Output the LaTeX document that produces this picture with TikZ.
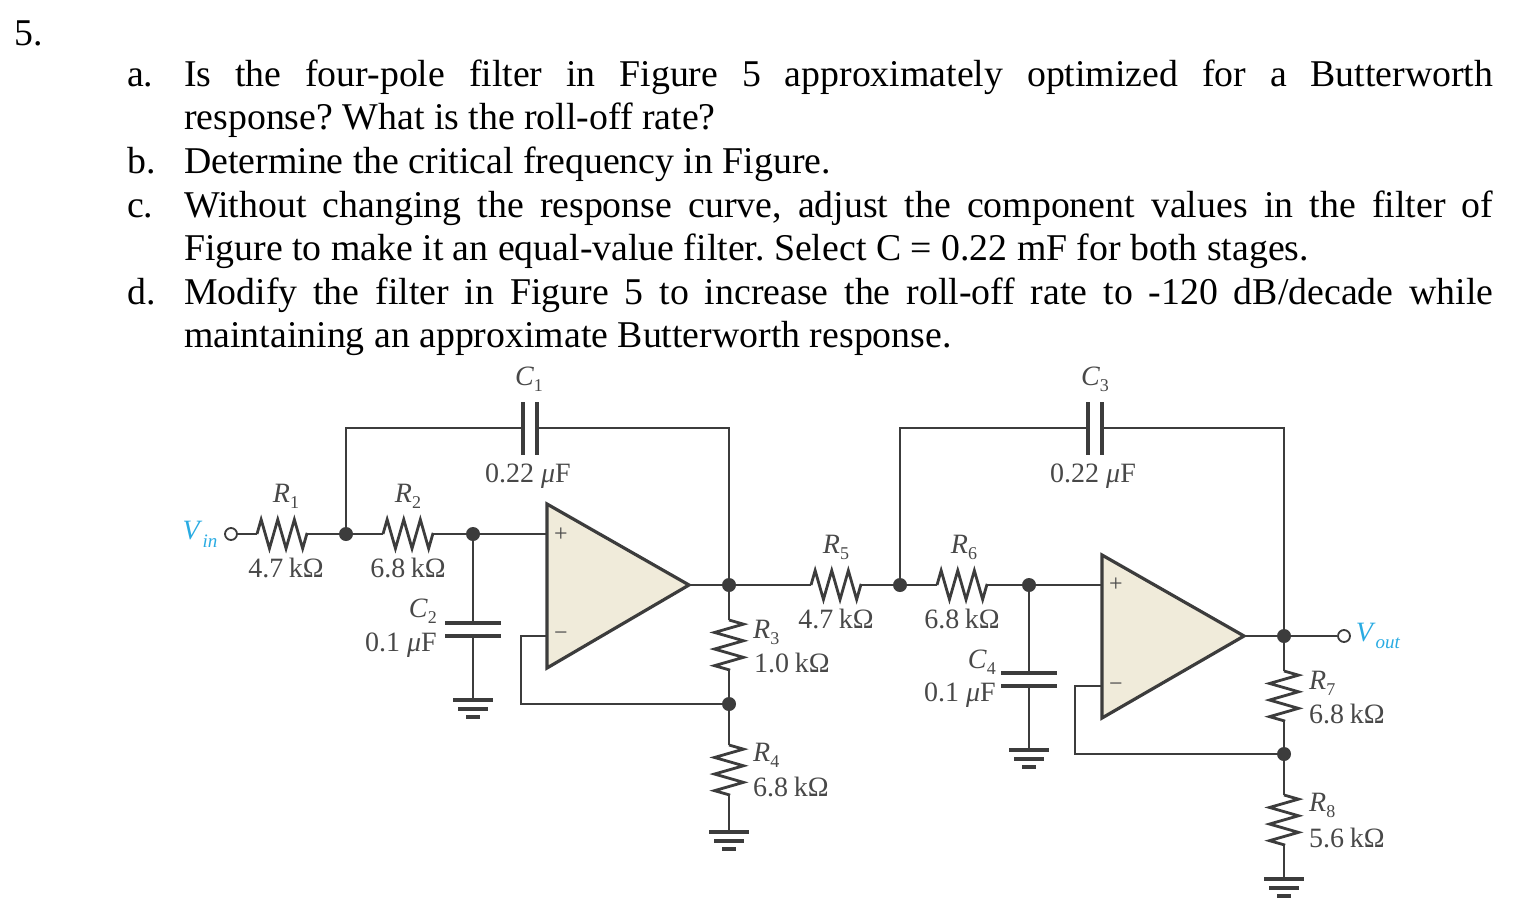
\documentclass[tikz,border=0pt]{standalone}
\usepackage{fontspec}
\setmainfont{Liberation Serif}
\usetikzlibrary{decorations.pathmorphing}
\definecolor{wirecol}{HTML}{3C3C3C}
\definecolor{labelcol}{HTML}{484848}
\definecolor{ampfill}{HTML}{F0EBDA}
\definecolor{vcol}{HTML}{29ABE2}
\newcommand{\sublab}[2]{\textit{#1}\raisebox{-0.22em}{\fontsize{18}{18}\selectfont #2}}
\newcommand{\vlab}[2]{\textit{#1}\raisebox{-0.28em}{\fontsize{19}{19}\selectfont\textit{#2}}}
\newcommand{\mufarad}{\textit{μ}F}
\newcommand{\kohm}{\hspace{0.2em}kΩ}
\newcommand{\qtext}[1]{\parbox[t]{1309pt}{\frenchspacing #1}}
\tikzset{%
  % Specifications for style of nodes:
         para/.style = {anchor=base west, inner sep=0pt,
                        font=\fontsize{37.8}{43.7}\selectfont},
        value/.style = {inner sep=0pt, text=labelcol, font=\fontsize{28}{30}\selectfont},
         sign/.style = {inner sep=0pt, text=labelcol, font=\fontsize{24}{24}\selectfont},
        vname/.style = {inner sep=0pt, text=vcol, font=\fontsize{28}{30}\selectfont},
          dot/.style = {circle, fill=wirecol, inner sep=0pt, minimum size=14pt},
         port/.style = {circle, draw=wirecol, fill=white, line width=1.8pt,
                        inner sep=0pt, minimum size=12pt},
  % Specifications for style of lines:
         wire/.style = {draw=wirecol, line width=1.9pt},
          res/.style = {draw=wirecol, line width=2.8pt, line join=miter,
                        decorate, decoration={zigzag, segment length=16.6pt, amplitude=14.5pt}},
        plate/.style = {draw=wirecol, line width=3.4pt},
          amp/.style = {draw=wirecol, fill=ampfill, line width=3.2pt, line join=miter},
}
\newcommand{\gndsym}[1]{%
  \draw[plate] (#1) ++(-20,0) -- ++(40,0);
  \draw[plate] (#1) ++(-15,9) -- ++(30,0);
  \draw[plate] (#1) ++(-7,17) -- ++(14,0);
}
\begin{document}
\begin{tikzpicture}[x=1pt,y=-1pt]
  \useasboundingbox (0,0) rectangle (1537,905);
  % Question text
  \node[para] (num) at (14,45) {5.};
  \node[para] (qa) at (127,86) {a.};
  \node[para] (qb) at (127,173) {b.};
  \node[para] (qc) at (127,217) {c.};
  \node[para] (qd) at (127,304) {d.};
  \node[para] (ta) at (184,86) {\qtext{Is the four-pole filter in Figure 5 approximately optimized for a Butterworth\linebreak response? What is the roll-off rate?}};
  \node[para] (tb) at (184,173) {\qtext{Determine the critical frequency in Figure.}};
  \node[para] (tc) at (184,217) {\qtext{Without changing the response curve, adjust the component values in the filter of\linebreak Figure to make it an equal-value filter. Select C = 0.22 mF for both stages.}};
  \node[para] (td) at (184,304) {\qtext{Modify the filter in Figure 5 to increase the roll-off rate to -120 dB/decade while\linebreak maintaining an approximate Butterworth response.}};

  % First stage: junctions and terminals
  \node[port] (vin) at (231,534) {};
  \node[dot] (j1) at (346,534) {};
  \node[dot] (j2) at (473,534) {};
  \node[dot] (j3) at (729,585) {};
  \node[dot] (j4) at (729,704) {};
  \coordinate (r1a) at (257,534);
  \coordinate (r1b) at (307,534);
  \coordinate (r2a) at (383,534);
  \coordinate (r2b) at (433,534);
  \coordinate (r3a) at (729,620);
  \coordinate (r3b) at (729,670);
  \coordinate (r4a) at (729,745);
  \coordinate (r4b) at (729,795);
  \coordinate (c1a) at (523,428);
  \coordinate (c1b) at (537,428);
  \coordinate (c2a) at (473,623);
  \coordinate (c2b) at (473,636);
  \coordinate (c1l) at (346,428);
  \coordinate (c1r) at (729,428);
  \coordinate (a1top) at (547,504);
  \coordinate (a1bot) at (547,668);
  \coordinate (a1out) at (689,585);
  \coordinate (a1p) at (547,534);
  \coordinate (a1m) at (547,636);
  \coordinate (fb1a) at (521,636);
  \coordinate (fb1b) at (521,704);
  \coordinate (g1) at (473,700);
  \coordinate (g2) at (729,832);

  % Second stage: junctions and terminals
  \node[dot] (j5) at (900,585) {};
  \node[dot] (j6) at (1029,585) {};
  \node[dot] (j7) at (1284,636) {};
  \node[dot] (j8) at (1284,754) {};
  \node[port] (vout) at (1344,636) {};
  \coordinate (r5a) at (811,585);
  \coordinate (r5b) at (861,585);
  \coordinate (r6a) at (937,585);
  \coordinate (r6b) at (987,585);
  \coordinate (r7a) at (1284,671);
  \coordinate (r7b) at (1284,721);
  \coordinate (r8a) at (1284,795);
  \coordinate (r8b) at (1284,845);
  \coordinate (c3a) at (1088,428);
  \coordinate (c3b) at (1102,428);
  \coordinate (c4a) at (1029,673);
  \coordinate (c4b) at (1029,686);
  \coordinate (c3l) at (900,428);
  \coordinate (c3r) at (1284,428);
  \coordinate (a2top) at (1102,555);
  \coordinate (a2bot) at (1102,718);
  \coordinate (a2out) at (1244,636);
  \coordinate (a2p) at (1102,585);
  \coordinate (a2m) at (1102,686);
  \coordinate (fb2a) at (1075,686);
  \coordinate (fb2b) at (1075,754);
  \coordinate (g3) at (1029,750);
  \coordinate (g4) at (1284,879);

  % Wires between the parts
  \draw[wire] (vin) -- (r1a);
  \draw[wire] (r1b) -- (j1);
  \draw[wire] (j1) -- (r2a);
  \draw[wire] (r2b) -- (j2);
  \draw[wire] (j2) -- (a1p);
  \draw[wire] (j1) -- (c1l) -- (c1a);
  \draw[wire] (c1b) -- (c1r) -- (j3);
  \draw[wire] (j2) -- (c2a);
  \draw[wire] (c2b) -- (g1);
  \draw[wire] (a1m) -- (fb1a) -- (fb1b) -- (j4);
  \draw[wire] (a1out) -- (j3);
  \draw[wire] (j3) -- (r3a);
  \draw[wire] (r3b) -- (j4);
  \draw[wire] (j4) -- (r4a);
  \draw[wire] (r4b) -- (g2);
  \draw[wire] (j3) -- (r5a);
  \draw[wire] (r5b) -- (j5);
  \draw[wire] (j5) -- (r6a);
  \draw[wire] (r6b) -- (j6);
  \draw[wire] (j6) -- (a2p);
  \draw[wire] (j5) -- (c3l) -- (c3a);
  \draw[wire] (c3b) -- (c3r) -- (j7);
  \draw[wire] (j6) -- (c4a);
  \draw[wire] (c4b) -- (g3);
  \draw[wire] (a2m) -- (fb2a) -- (fb2b) -- (j8);
  \draw[wire] (a2out) -- (j7);
  \draw[wire] (j7) -- (vout);
  \draw[wire] (j7) -- (r7a);
  \draw[wire] (r7b) -- (j8);
  \draw[wire] (j8) -- (r8a);
  \draw[wire] (r8b) -- (g4);

  % Resistors
  \draw[res] (r1a) -- (r1b);
  \draw[res] (r2a) -- (r2b);
  \draw[res] (r3a) -- (r3b);
  \draw[res] (r4a) -- (r4b);
  \draw[res] (r5a) -- (r5b);
  \draw[res] (r6a) -- (r6b);
  \draw[res] (r7a) -- (r7b);
  \draw[res] (r8a) -- (r8b);

  % Capacitors
  \draw[plate] (c1a) ++(0,-26) -- ++(0,53);
  \draw[plate] (c1b) ++(0,-26) -- ++(0,53);
  \draw[plate] (c2a) ++(-28,0) -- ++(56,0);
  \draw[plate] (c2b) ++(-28,0) -- ++(56,0);
  \draw[plate] (c3a) ++(0,-26) -- ++(0,53);
  \draw[plate] (c3b) ++(0,-26) -- ++(0,53);
  \draw[plate] (c4a) ++(-28,0) -- ++(56,0);
  \draw[plate] (c4b) ++(-28,0) -- ++(56,0);

  % Grounds
  \gndsym{g1}
  \gndsym{g2}
  \gndsym{g3}
  \gndsym{g4}

  % Op-amps
  \draw[amp] (a1top) -- (a1out) -- (a1bot) -- cycle;
  \draw[amp] (a2top) -- (a2out) -- (a2bot) -- cycle;
  \node[sign] (a1plus) at (561,535) {+};
  \node[sign] (a1minus) at (561,636) {−};
  \node[sign] (a2plus) at (1116,585) {+};
  \node[sign] (a2minus) at (1116,687) {−};

  % Labels
  \node[vname] (vinl) at (200,534) {\vlab{V}{in}};
  \node[vname] (voutl) at (1378,636) {\vlab{V}{out}};
  \node[value] (r1n) at (286,496) {\sublab{R}{1}};
  \node[value] (r1v) at (286,568) {4.7\kohm};
  \node[value] (r2n) at (408,496) {\sublab{R}{2}};
  \node[value] (r2v) at (408,568) {6.8\kohm};
  \node[value] (c1n) at (529,379) {\sublab{C}{1}};
  \node[value] (c1v) at (528,476) {0.22 \mufarad};
  \node[value, anchor=east] (c2n) at (437,611) {\sublab{C}{2}};
  \node[value, anchor=east] (c2v) at (437,645) {0.1 \mufarad};
  \node[value] (r5n) at (836,547) {\sublab{R}{5}};
  \node[value] (r5v) at (836,619) {4.7\kohm};
  \node[value] (r6n) at (964,547) {\sublab{R}{6}};
  \node[value] (r6v) at (962,619) {6.8\kohm};
  \node[value] (c3n) at (1095,379) {\sublab{C}{3}};
  \node[value] (c3v) at (1093,476) {0.22 \mufarad};
  \node[value, anchor=east] (c4n) at (996,662) {\sublab{C}{4}};
  \node[value, anchor=east] (c4v) at (996,695) {0.1 \mufarad};
  \node[value, anchor=west] (r3n) at (753,632) {\sublab{R}{3}};
  \node[value, anchor=west] (r3v) at (754,663) {1.0\kohm};
  \node[value, anchor=west] (r4n) at (753,755) {\sublab{R}{4}};
  \node[value, anchor=west] (r4v) at (753,787) {6.8\kohm};
  \node[value, anchor=west] (r7n) at (1309,683) {\sublab{R}{7}};
  \node[value, anchor=west] (r7v) at (1309,714) {6.8\kohm};
  \node[value, anchor=west] (r8n) at (1309,805) {\sublab{R}{8}};
  \node[value, anchor=west] (r8v) at (1309,838) {5.6\kohm};
\end{tikzpicture}
\end{document}
